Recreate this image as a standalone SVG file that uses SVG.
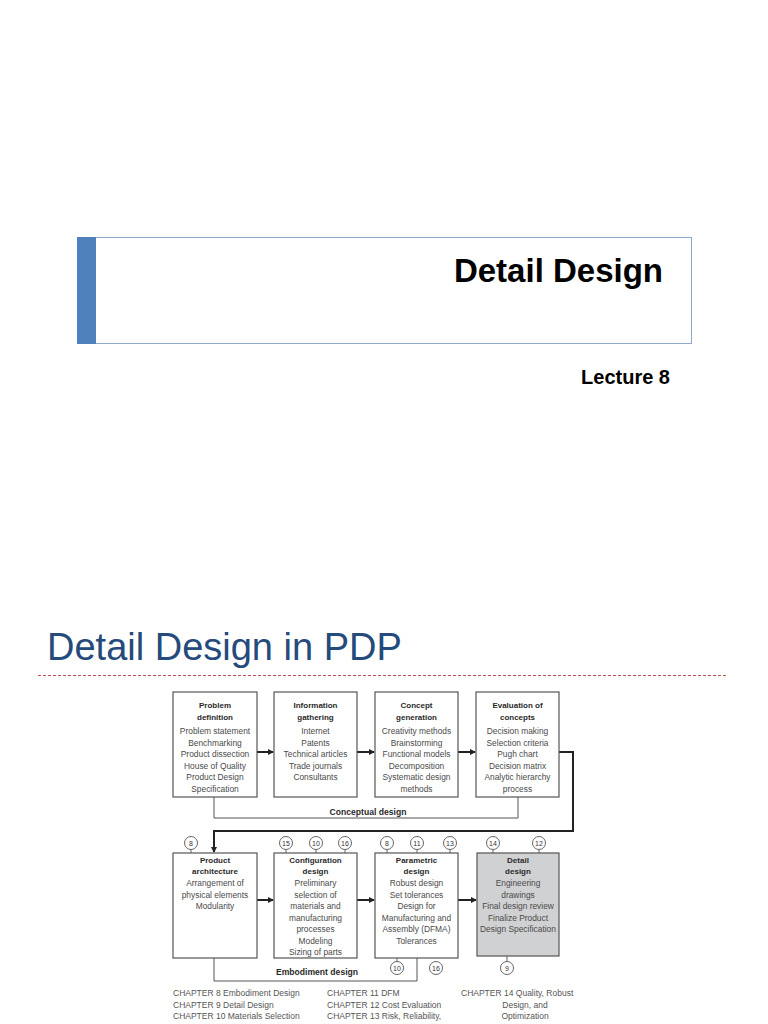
<svg xmlns="http://www.w3.org/2000/svg" width="768" height="1024" viewBox="0 0 768 1024">
<defs>
<style>
.t{font-family:"Liberation Sans",Arial,sans-serif;font-size:8px;font-weight:bold;fill:#2a2a2a;text-anchor:middle}
.lbl{font-family:"Liberation Sans",Arial,sans-serif;font-size:8.6px;font-weight:bold;fill:#2a2a2a;text-anchor:middle}
.b{font-family:"Liberation Sans",Arial,sans-serif;font-size:8.4px;fill:#4a4a4a;text-anchor:middle}
.n{font-family:"Liberation Sans",Arial,sans-serif;font-size:7px;fill:#333;text-anchor:middle}
.c{font-family:"Liberation Sans",Arial,sans-serif;font-size:8.5px;fill:#555}
.box{fill:#fff;stroke:#555;stroke-width:1.2}
.circ{fill:#fff;stroke:#555;stroke-width:0.9}
.stem{stroke:#555;stroke-width:0.9}
.br{fill:none;stroke:#555;stroke-width:1}
.arr{fill:none;stroke:#222;stroke-width:2}
</style>
<marker id="ah" markerWidth="6" markerHeight="6" refX="5" refY="3" orient="auto" markerUnits="userSpaceOnUse">
<path d="M0,0 L6,3 L0,6 Z" fill="#222"/>
</marker>
</defs>
<rect width="768" height="1024" fill="#fff"/>

<g id="title-slide">
<rect x="77.5" y="237.5" width="614" height="106" fill="#fff" stroke="#8ea9cc" stroke-width="1"/>
<rect x="77" y="237" width="19" height="107" fill="#4f81bd"/>
<text x="663" y="282" font-family="Liberation Sans,Arial,sans-serif" font-size="33" font-weight="bold" text-anchor="end" fill="#000">Detail Design</text>
<text x="670" y="384" font-family="Liberation Sans,Arial,sans-serif" font-size="20" font-weight="bold" text-anchor="end" fill="#000">Lecture 8</text>
</g>

<g id="heading">
<text x="47" y="660" font-family="Liberation Sans,Arial,sans-serif" font-size="38" fill="#254a7c">Detail Design in PDP</text>
<line x1="38" y1="675.5" x2="728" y2="675.5" stroke="#c0504d" stroke-width="1" stroke-dasharray="3,2"/>
</g>

<g id="connectors">
<line class="arr" x1="257" y1="752" x2="273" y2="752" marker-end="url(#ah)"/>
<line class="arr" x1="357" y1="752" x2="374" y2="752" marker-end="url(#ah)"/>
<line class="arr" x1="458" y1="752" x2="475" y2="752" marker-end="url(#ah)"/>
<polyline class="arr" points="559,752 573,752 573,831 214,831 214,852" marker-end="url(#ah)"/>
<line class="arr" x1="257" y1="900" x2="273" y2="900" marker-end="url(#ah)"/>
<line class="arr" x1="357" y1="900" x2="374" y2="900" marker-end="url(#ah)"/>
<line class="arr" x1="458" y1="900" x2="476" y2="900" marker-end="url(#ah)"/>
<polyline class="br" points="214,797 214,818 518,818 518,797"/>
<text class="lbl" x="368" y="815">Conceptual design</text>
<polyline class="br" points="214,958 214,981 417,981 417,958"/>
<text class="lbl" x="317" y="975">Embodiment design</text>
</g>

<g id="problem-definition">
<rect class="box" x="173" y="692" width="84" height="105"/>
<text class="t" x="215" y="708">Problem</text>
<text class="t" x="215" y="720">definition</text>
<text class="b" x="215" y="734">Problem statement</text>
<text class="b" x="215" y="745.5">Benchmarking</text>
<text class="b" x="215" y="757">Product dissection</text>
<text class="b" x="215" y="768.5">House of Quality</text>
<text class="b" x="215" y="780">Product Design</text>
<text class="b" x="215" y="791.5">Specification</text>
</g>

<g id="information-gathering">
<rect class="box" x="274" y="692" width="83" height="105"/>
<text class="t" x="315.5" y="708">Information</text>
<text class="t" x="315.5" y="720">gathering</text>
<text class="b" x="315.5" y="734">Internet</text>
<text class="b" x="315.5" y="745.5">Patents</text>
<text class="b" x="315.5" y="757">Technical articles</text>
<text class="b" x="315.5" y="768.5">Trade journals</text>
<text class="b" x="315.5" y="780">Consultants</text>
</g>

<g id="concept-generation">
<rect class="box" x="375" y="692" width="83" height="105"/>
<text class="t" x="416.5" y="708">Concept</text>
<text class="t" x="416.5" y="720">generation</text>
<text class="b" x="416.5" y="734">Creativity methods</text>
<text class="b" x="416.5" y="745.5">Brainstorming</text>
<text class="b" x="416.5" y="757">Functional models</text>
<text class="b" x="416.5" y="768.5">Decomposition</text>
<text class="b" x="416.5" y="780">Systematic design</text>
<text class="b" x="416.5" y="791.5">methods</text>
</g>

<g id="evaluation-of-concepts">
<rect class="box" x="476" y="692" width="83" height="105"/>
<text class="t" x="517.5" y="708">Evaluation of</text>
<text class="t" x="517.5" y="720">concepts</text>
<text class="b" x="517.5" y="734">Decision making</text>
<text class="b" x="517.5" y="745.5">Selection criteria</text>
<text class="b" x="517.5" y="757">Pugh chart</text>
<text class="b" x="517.5" y="768.5">Decision matrix</text>
<text class="b" x="517.5" y="780">Analytic hierarchy</text>
<text class="b" x="517.5" y="791.5">process</text>
</g>

<g id="product-architecture">
<rect class="box" x="173" y="853" width="84" height="105"/>
<line class="stem" x1="191" y1="849.5" x2="191" y2="853"/>
<circle class="circ" cx="191" cy="843" r="6.5"/>
<text class="n" x="191" y="845.5">8</text>
<text class="t" x="215" y="863">Product</text>
<text class="t" x="215" y="874">architecture</text>
<text class="b" x="215" y="886">Arrangement of</text>
<text class="b" x="215" y="897.5">physical elements</text>
<text class="b" x="215" y="909">Modularity</text>
</g>

<g id="configuration-design">
<rect class="box" x="274" y="853" width="83" height="105"/>
<line class="stem" x1="286" y1="849.5" x2="286" y2="853"/>
<line class="stem" x1="316" y1="849.5" x2="316" y2="853"/>
<line class="stem" x1="345" y1="849.5" x2="345" y2="853"/>
<circle class="circ" cx="286" cy="843" r="6.5"/>
<circle class="circ" cx="316" cy="843" r="6.5"/>
<circle class="circ" cx="345" cy="843" r="6.5"/>
<text class="n" x="286" y="845.5">15</text>
<text class="n" x="316" y="845.5">10</text>
<text class="n" x="345" y="845.5">16</text>
<text class="t" x="315.5" y="863">Configuration</text>
<text class="t" x="315.5" y="874">design</text>
<text class="b" x="315.5" y="886">Preliminary</text>
<text class="b" x="315.5" y="897.5">selection of</text>
<text class="b" x="315.5" y="909">materials and</text>
<text class="b" x="315.5" y="920.5">manufacturing</text>
<text class="b" x="315.5" y="932">processes</text>
<text class="b" x="315.5" y="943.5">Modeling</text>
<text class="b" x="315.5" y="955">Sizing of parts</text>
</g>

<g id="parametric-design">
<rect class="box" x="375" y="853" width="83" height="105"/>
<line class="stem" x1="387" y1="849.5" x2="387" y2="853"/>
<line class="stem" x1="417" y1="849.5" x2="417" y2="853"/>
<line class="stem" x1="450" y1="849.5" x2="450" y2="853"/>
<circle class="circ" cx="387" cy="843" r="6.5"/>
<circle class="circ" cx="417" cy="843" r="6.5"/>
<circle class="circ" cx="450" cy="843" r="6.5"/>
<text class="n" x="387" y="845.5">8</text>
<text class="n" x="417" y="845.5">11</text>
<text class="n" x="450" y="845.5">13</text>
<text class="t" x="416.5" y="863">Parametric</text>
<text class="t" x="416.5" y="874">design</text>
<text class="b" x="416.5" y="886">Robust design</text>
<text class="b" x="416.5" y="897.5">Set tolerances</text>
<text class="b" x="416.5" y="909">Design for</text>
<text class="b" x="416.5" y="920.5">Manufacturing and</text>
<text class="b" x="416.5" y="932">Assembly (DFMA)</text>
<text class="b" x="416.5" y="943.5">Tolerances</text>
<line class="stem" x1="397" y1="958" x2="397" y2="962"/>
<circle class="circ" cx="397" cy="968" r="6.5"/>
<text class="n" x="397" y="970.5">10</text>
<circle class="circ" cx="436" cy="968" r="6.5"/>
<text class="n" x="436" y="970.5">16</text>
</g>

<g id="detail-design">
<rect x="477" y="853" width="82" height="103" fill="#d0d1d3" stroke="#555" stroke-width="1.2"/>
<line class="stem" x1="493" y1="849.5" x2="493" y2="853"/>
<line class="stem" x1="539" y1="849.5" x2="539" y2="853"/>
<circle class="circ" cx="493" cy="843" r="6.5"/>
<circle class="circ" cx="539" cy="843" r="6.5"/>
<text class="n" x="493" y="845.5">14</text>
<text class="n" x="539" y="845.5">12</text>
<text class="t" x="518" y="863">Detail</text>
<text class="t" x="518" y="874">design</text>
<text class="b" x="518" y="886">Engineering</text>
<text class="b" x="518" y="897.5">drawings</text>
<text class="b" x="518" y="909">Final design review</text>
<text class="b" x="518" y="920.5">Finalize Product</text>
<text class="b" x="518" y="932">Design Specification</text>
<line class="stem" x1="507" y1="956" x2="507" y2="962"/>
<circle class="circ" cx="507" cy="968" r="6.5"/>
<text class="n" x="507" y="970.5">9</text>
</g>

<g id="chapters">
<text class="c" x="173" y="996">CHAPTER 8 Embodiment Design</text>
<text class="c" x="173" y="1008">CHAPTER 9 Detail Design</text>
<text class="c" x="173" y="1019">CHAPTER 10 Materials Selection</text>
<text class="c" x="327" y="996">CHAPTER 11 DFM</text>
<text class="c" x="327" y="1008">CHAPTER 12 Cost Evaluation</text>
<text class="c" x="327" y="1019">CHAPTER 13 Risk, Reliability,</text>
<text class="c" x="461" y="996">CHAPTER 14 Quality, Robust</text>
<text class="c" x="525" y="1008" text-anchor="middle">Design, and</text>
<text class="c" x="525" y="1019" text-anchor="middle">Optimization</text>
</g>
</svg>
